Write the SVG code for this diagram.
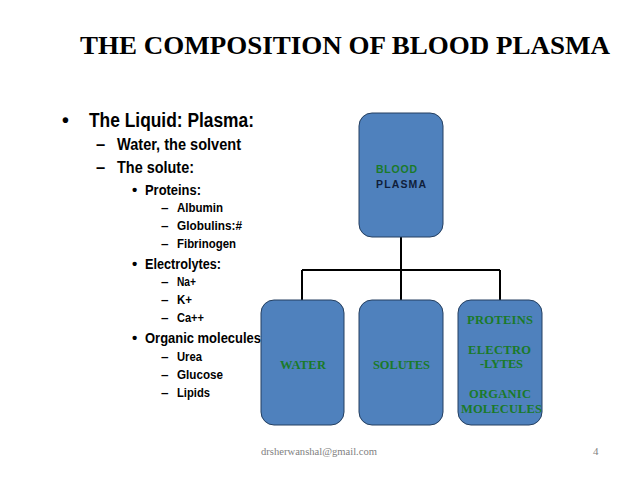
<svg xmlns="http://www.w3.org/2000/svg" width="638" height="478" viewBox="0 0 638 478">
<style>
.title{font-family:"Liberation Serif","Times New Roman",serif;font-weight:bold;font-size:26px;fill:#000}
.b{font-family:"Liberation Sans",Arial,sans-serif;font-weight:bold;fill:#000}
.l1{font-size:19.5px}
.l2{font-size:16.5px}
.l3{font-size:15px}
.l4{font-size:13.5px}
.box{fill:#4F81BD;stroke:#243F60;stroke-width:1}
.g{font-family:"Liberation Serif","Times New Roman",serif;font-weight:bold;font-size:12.5px;fill:#1A7A28;text-anchor:middle}
.s{font-family:"Liberation Sans",Arial,sans-serif;font-weight:bold;font-size:10.5px}
.conn{stroke:#000;stroke-width:2;fill:none}
.foot{font-family:"Liberation Serif","Times New Roman",serif;font-size:11px;fill:#7F7F7F}
</style>
<rect width="638" height="478" fill="#fff"/>
<text class="title" x="80" y="54" textLength="530" lengthAdjust="spacingAndGlyphs">THE COMPOSITION OF BLOOD PLASMA</text>
<g id="bullets">
<text class="b l1" x="62" y="127">•</text>
<text class="b l1" x="89" y="127" textLength="165" lengthAdjust="spacingAndGlyphs">The Liquid: Plasma:</text>
<text class="b l2" x="96" y="150">–</text>
<text class="b l2" x="117" y="150" textLength="124" lengthAdjust="spacingAndGlyphs">Water, the solvent</text>
<text class="b l2" x="96" y="173">–</text>
<text class="b l2" x="117" y="173" textLength="77" lengthAdjust="spacingAndGlyphs">The solute:</text>
<text class="b l3" x="132" y="195">•</text>
<text class="b l3" x="145" y="195" textLength="56" lengthAdjust="spacingAndGlyphs">Proteins:</text>
<text class="b l4" x="161" y="212">–</text>
<text class="b l4" x="177" y="212" textLength="46" lengthAdjust="spacingAndGlyphs">Albumin</text>
<text class="b l4" x="161" y="230">–</text>
<text class="b l4" x="177" y="230" textLength="65" lengthAdjust="spacingAndGlyphs">Globulins:#</text>
<text class="b l4" x="161" y="248">–</text>
<text class="b l4" x="177" y="248" textLength="59" lengthAdjust="spacingAndGlyphs">Fibrinogen</text>
<text class="b l3" x="132" y="269">•</text>
<text class="b l3" x="145" y="269" textLength="76" lengthAdjust="spacingAndGlyphs">Electrolytes:</text>
<text class="b l4" x="161" y="286">–</text>
<text class="b l4" x="177" y="286" textLength="19" lengthAdjust="spacingAndGlyphs">Na+</text>
<text class="b l4" x="161" y="304">–</text>
<text class="b l4" x="177" y="304" textLength="15" lengthAdjust="spacingAndGlyphs">K+</text>
<text class="b l4" x="161" y="322">–</text>
<text class="b l4" x="177" y="322" textLength="27" lengthAdjust="spacingAndGlyphs">Ca++</text>
<text class="b l3" x="132" y="343">•</text>
<text class="b l3" x="145" y="343" textLength="116" lengthAdjust="spacingAndGlyphs">Organic molecules</text>
<text class="b l4" x="161" y="361">–</text>
<text class="b l4" x="177" y="361" textLength="25" lengthAdjust="spacingAndGlyphs">Urea</text>
<text class="b l4" x="161" y="379">–</text>
<text class="b l4" x="177" y="379" textLength="46" lengthAdjust="spacingAndGlyphs">Glucose</text>
<text class="b l4" x="161" y="397">–</text>
<text class="b l4" x="177" y="397" textLength="33" lengthAdjust="spacingAndGlyphs">Lipids</text>
</g>
<g id="connectors">
<path class="conn" d="M401 237 V270 M302 270 H500 M302 270 V300 M401 270 V300 M500 270 V300"/>
</g>
<g id="blood-plasma">
<rect class="box" x="359" y="113" width="84" height="124" rx="13" ry="13"/>
<text class="s" x="376" y="173" fill="#1A7A28" textLength="41" lengthAdjust="spacing">BLOOD</text>
<text class="s" x="376" y="188" fill="#0F1E3A" textLength="50" lengthAdjust="spacing">PLASMA</text>
</g>
<g id="water">
<rect class="box" x="261" y="300" width="83" height="125" rx="13" ry="13"/>
<text class="g" x="303" y="369" textLength="46" lengthAdjust="spacing">WATER</text>
</g>
<g id="solutes">
<rect class="box" x="359" y="300" width="84" height="125" rx="13" ry="13"/>
<text class="g" x="401.5" y="369" textLength="57" lengthAdjust="spacing">SOLUTES</text>
</g>
<g id="components">
<rect class="box" x="458" y="300" width="84" height="125" rx="13" ry="13"/>
<text class="g" x="500" y="324" textLength="66" lengthAdjust="spacing">PROTEINS</text>
<text class="g" x="499.5" y="354" textLength="63" lengthAdjust="spacing">ELECTRO</text>
<text class="g" x="501.5" y="368" textLength="43" lengthAdjust="spacing">-LYTES</text>
<text class="g" x="500" y="398" textLength="62" lengthAdjust="spacing">ORGANIC</text>
<text class="g" x="501.5" y="413" textLength="81" lengthAdjust="spacing">MOLECULES</text>
</g>
<text class="foot" x="261" y="455" textLength="116" lengthAdjust="spacingAndGlyphs">drsherwanshal@gmail.com</text>
<text class="foot" x="593" y="455">4</text>
</svg>
